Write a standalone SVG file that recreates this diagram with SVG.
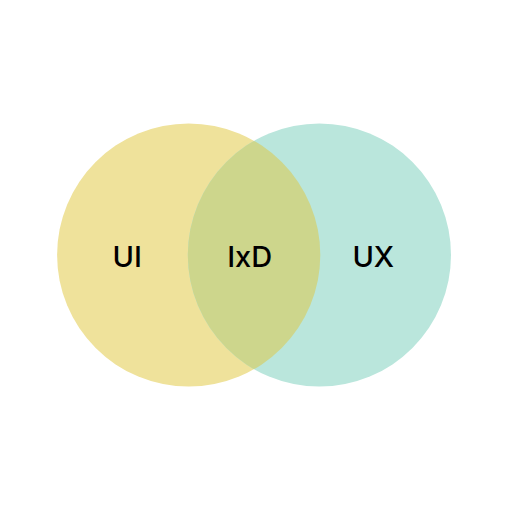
<svg xmlns="http://www.w3.org/2000/svg" width="508" height="512" viewBox="0 0 508 512">
  <style>
    .lbl { font-family: Inter, "Noto Sans", "Liberation Sans", sans-serif; font-size: 29px; font-weight: 500; fill: #000; text-anchor: middle; dominant-baseline: central; }
  </style>
  <defs>
    <clipPath id="clipLeft"><circle cx="188.7" cy="255" r="131.6"/></clipPath>
  </defs>
  <rect width="508" height="512" fill="#fff"/>
  <g id="ui">
    <circle cx="188.7" cy="255" r="131.6" fill="#EFE29B"/>
    <text class="lbl" x="127.3" y="256">UI</text>
  </g>
  <g id="ux">
    <circle cx="319.4" cy="255" r="131.6" fill="#BAE6DC"/>
    <text class="lbl" x="373.3" y="256">UX</text>
  </g>
  <g id="ixd">
    <circle cx="319.4" cy="255" r="131.6" fill="#CDD68C" clip-path="url(#clipLeft)"/>
    <text class="lbl" x="249.7" y="256">IxD</text>
  </g>
  <g id="connectors"/>
</svg>
